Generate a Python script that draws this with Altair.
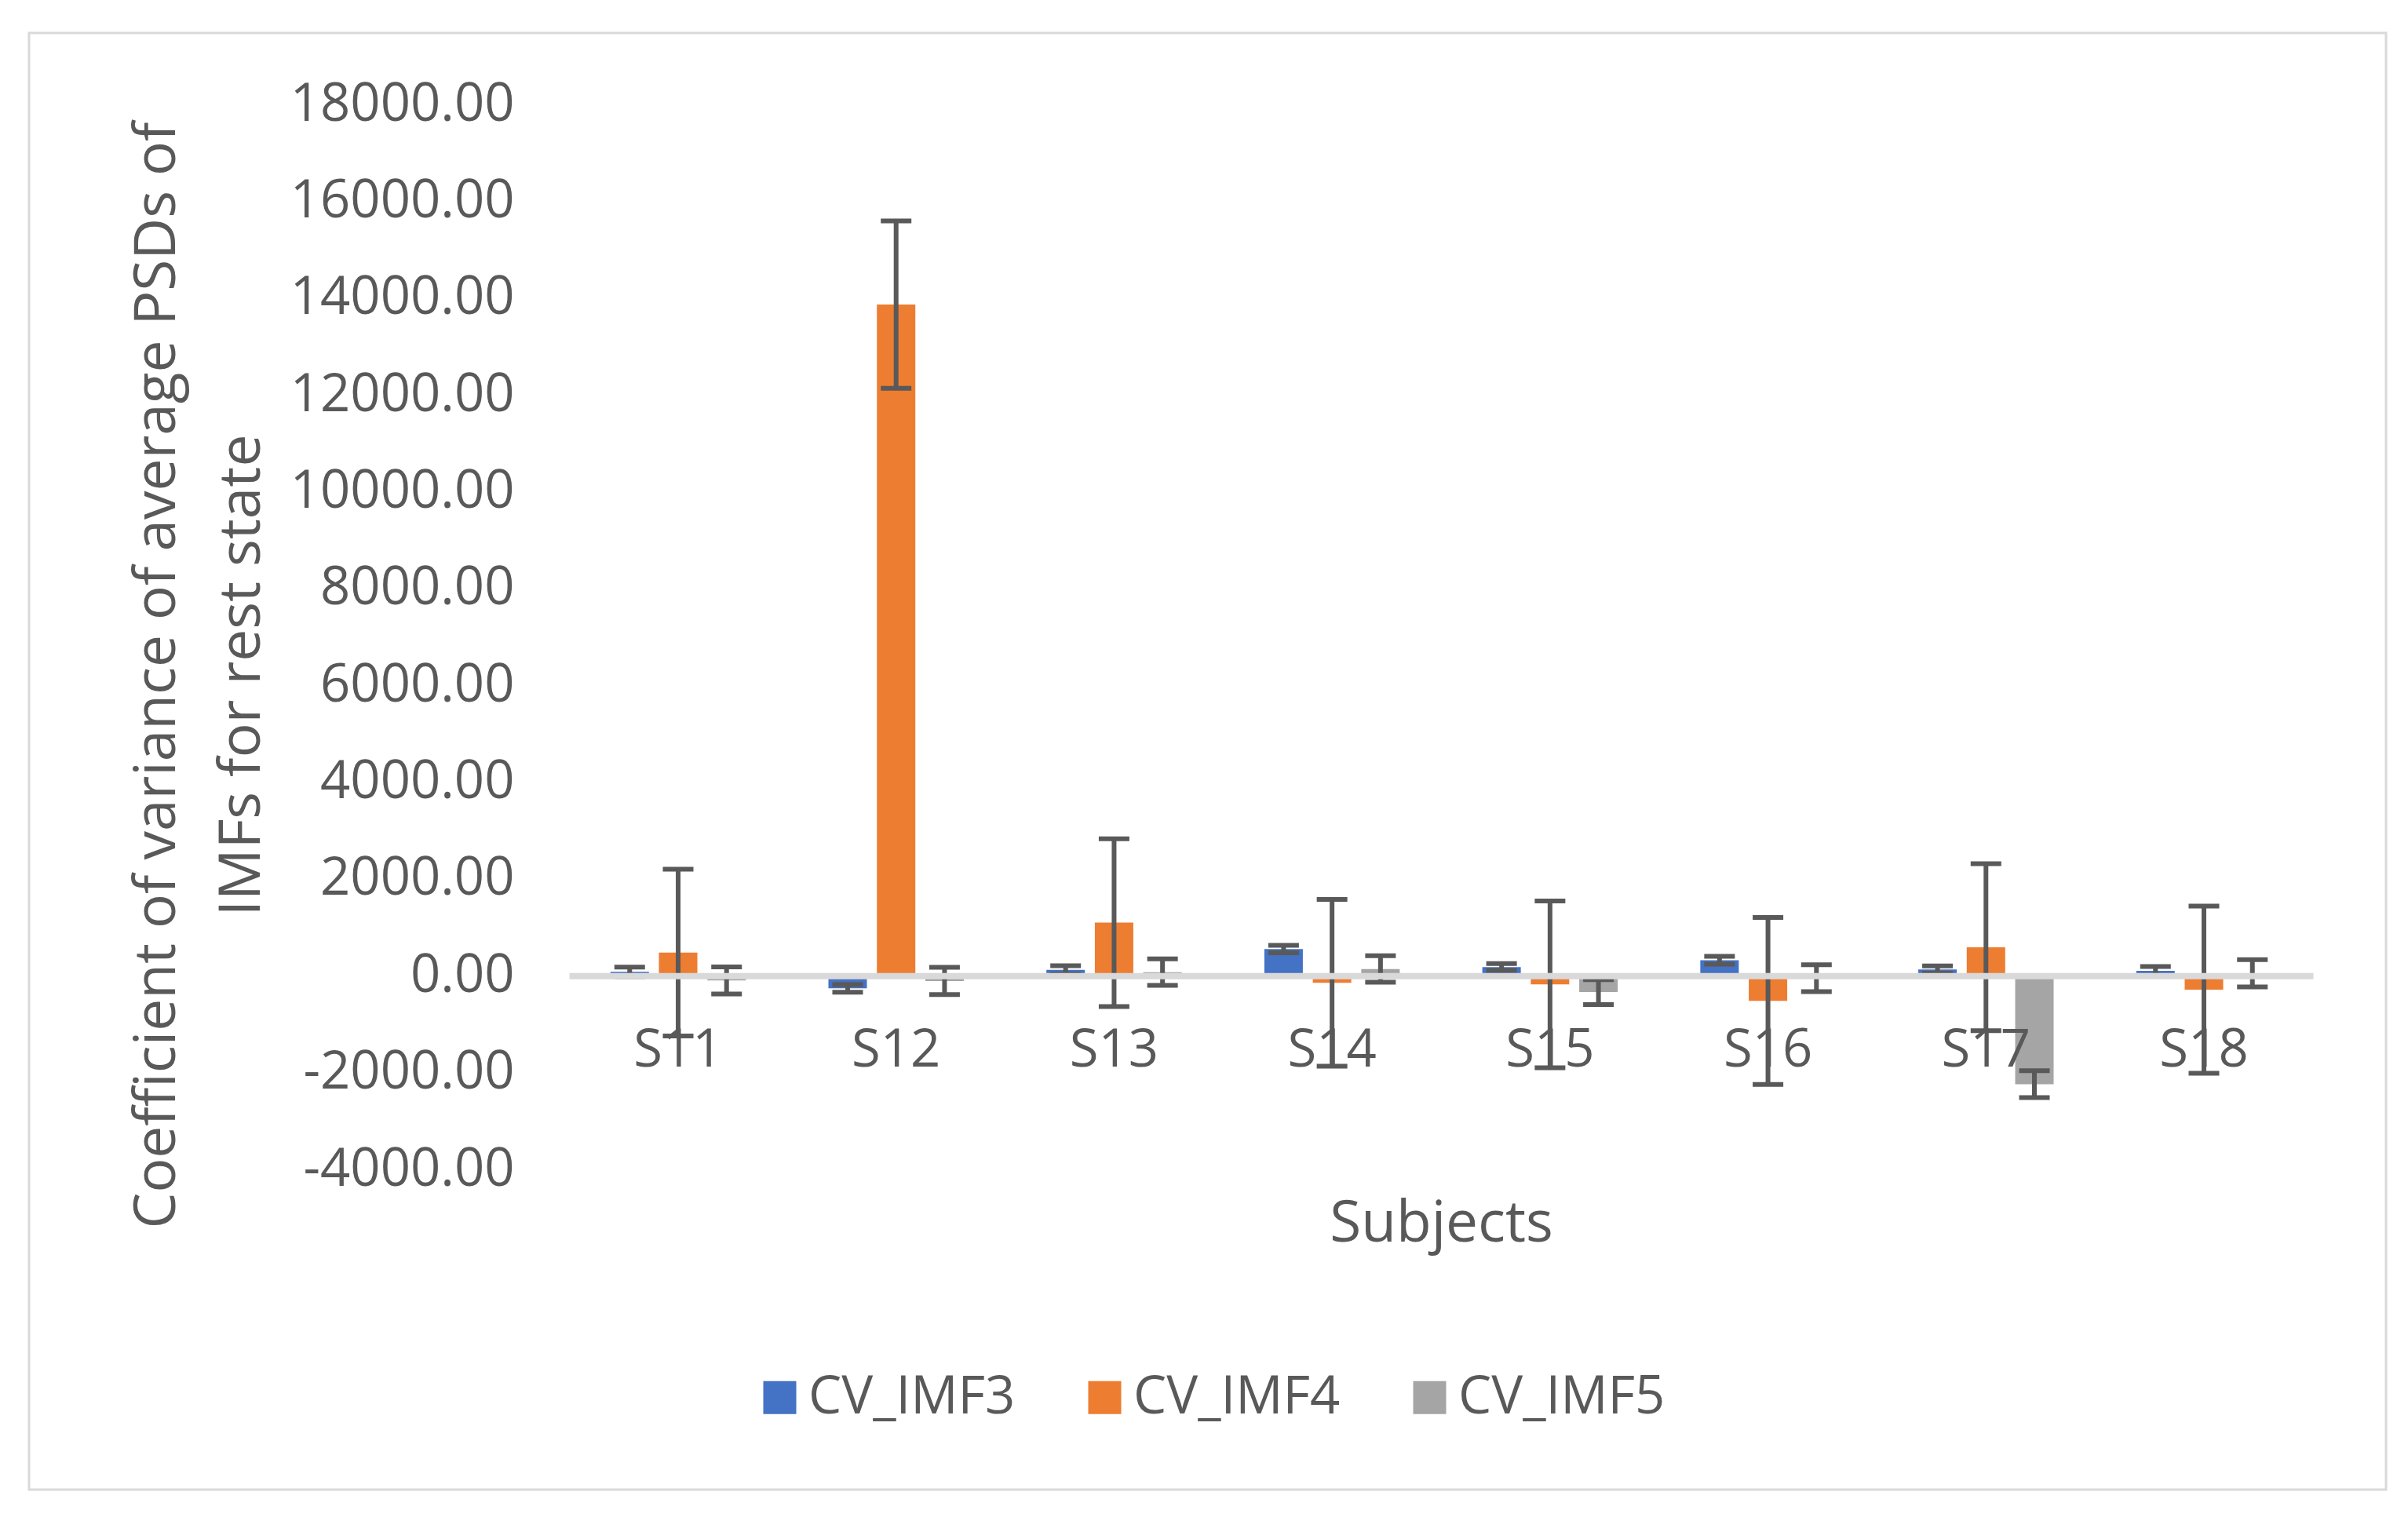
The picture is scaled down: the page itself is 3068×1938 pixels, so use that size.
import altair as alt
import pandas as pd

subjects = ["S11", "S12", "S13", "S14", "S15", "S16", "S17", "S18"]
series_names = ["CV_IMF3", "CV_IMF4", "CV_IMF5"]
cv_imf3 = [80, -260, 120, 550, 180, 320, 130, 100]
cv_imf3_err = [100, 80, 86, 77, 70, 80, 75, 90]
cv_imf4 = [478, 13864, 1097, -146, -178, -519, 589, -289]
cv_imf4_err = [1722, 1730, 1733, 1724, 1723, 1724, 1724, 1727]
cv_imf5 = [-97, -108, 75, 140, -338, -51, -2240, 51]
cv_imf5_err = [278, 281, 275, 275, 257, 278, 278, 283]
y_ticks = list(range(-4000, 18001, 2000))
colors = ["#4472C4", "#ED7D31", "#A5A5A5"]
y_title = ["Coefficient of variance of average PSDs of", "IMFs for rest state"]
x_title = "Subjects"

rows = []
for name, vals, errs in zip(series_names, [cv_imf3, cv_imf4, cv_imf5],
                            [cv_imf3_err, cv_imf4_err, cv_imf5_err]):
    for s, v, e in zip(subjects, vals, errs):
        rows.append(dict(subject=s, series=name, value=v, lo=v - e, hi=v + e))
df = pd.DataFrame(rows)

W, H = 2222, 1357
YMIN, YMAX = -4000, 18000
zero_offset = -(0 - YMIN) / (YMAX - YMIN) * H
TXT = "#595959"
FONT = "Open Sans"

x_enc = alt.X(
    "subject:N", sort=subjects,
    scale=alt.Scale(paddingInner=0.379, paddingOuter=0.19),
    axis=alt.Axis(
        orient="bottom", offset=zero_offset, domainColor="#D9D9D9", domainWidth=8,
        ticks=False, grid=False, labelAngle=0, labelFontSize=67, labelColor=TXT,
        labelFont=FONT, labelPadding=62, labelLimit=0, title=x_title,
        titleFontSize=73, titleFont=FONT, titleFontWeight="normal",
        titleColor=TXT, titleBaseline="alphabetic", titleY=338, zindex=1,
    ),
)
xoff_enc = alt.XOffset("series:N", sort=series_names,
                       scale=alt.Scale(paddingInner=0.206, paddingOuter=0))
y_scale = alt.Scale(domain=[YMIN, YMAX], nice=False, zero=False)

bars = alt.Chart(df).mark_bar().encode(
    x=x_enc,
    xOffset=xoff_enc,
    y=alt.Y(
        "value:Q", scale=y_scale,
        axis=alt.Axis(
            values=y_ticks,
            labelExpr="replace(format(datum.value, '.2f'), '\u2212', '-')",
            labelFontSize=67, labelColor=TXT, labelFont=FONT, labelPadding=70,
            labelLimit=0, domain=False, ticks=False, grid=False,
            title=y_title, titleFontSize=73, titleFont=FONT,
            titleFontWeight="normal", titleColor=TXT, titleAngle=-90,
            titleAlign="center", titleBaseline="alphabetic",
            titleX=-503, titleY=727, titleLineHeight=108, titleLimit=0,
        ),
    ),
    y2=alt.Y2(datum=0),
    color=alt.Color(
        "series:N", sort=series_names,
        scale=alt.Scale(domain=series_names, range=colors),
        legend=alt.Legend(
            orient="none", legendX=235, legendY=1614, direction="horizontal",
            title=None, symbolType="square", symbolSize=1764,
            symbolStrokeWidth=0, symbolOpacity=1, labelFontSize=67,
            labelFont=FONT, labelColor=TXT, labelOffset=3, labelLimit=0,
            columnPadding=80, padding=0,
        ),
    ),
)

rules = alt.Chart(df).mark_rule(color=TXT, strokeWidth=6).encode(
    x=alt.X("subject:N", sort=subjects),
    xOffset=alt.XOffset("series:N", sort=series_names),
    y=alt.Y("lo:Q", scale=y_scale),
    y2="hi:Q",
)
caps_hi = alt.Chart(df).mark_tick(color=TXT, size=39, thickness=6,
                                  orient="horizontal", opacity=1).encode(
    x=alt.X("subject:N", sort=subjects),
    xOffset=alt.XOffset("series:N", sort=series_names),
    y=alt.Y("hi:Q", scale=y_scale),
)
caps_lo = alt.Chart(df).mark_tick(color=TXT, size=39, thickness=6,
                                  orient="horizontal", opacity=1).encode(
    x=alt.X("subject:N", sort=subjects),
    xOffset=alt.XOffset("series:N", sort=series_names),
    y=alt.Y("lo:Q", scale=y_scale),
)

frame = alt.Chart(pd.DataFrame({"k": [0]})).mark_rect(
    fill="transparent", stroke="#D9D9D9", strokeWidth=3
).encode(
    x=alt.value(-688), x2=alt.value(2315), y=alt.value(-91), y2=alt.value(1765)
)

chart = alt.layer(frame, bars, rules, caps_hi, caps_lo).properties(
    width=W, height=H,
    autosize=alt.AutoSizeParams(type="none"),
    padding={"left": 717, "top": 125, "right": 103, "bottom": 415},
).configure(font=FONT, background="white").configure_view(strokeWidth=0, stroke="transparent")

chart.save("out.html", embed_options={"renderer": "svg", "actions": False})
